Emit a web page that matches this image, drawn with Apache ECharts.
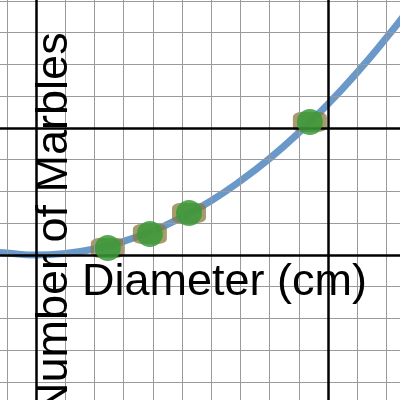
<!DOCTYPE html>
<html><head><meta charset="utf-8">
<script src="https://cdn.jsdelivr.net/npm/echarts@6/dist/echarts.min.js"></script>
<style>html,body{margin:0;padding:0;background:#fff}#main{width:400px;height:400px}</style>
</head><body><div id="main"></div>
<script>
var pointX = [1.23, 1.95, 2.62, 4.69];
var pointY = [0.22, 0.66, 1.32, 4.19];
// fitted trend curve samples
var curveX = [-0.7, -0.5, 0, 0.5, 1, 1.5, 2, 2.5, 3, 3.5, 4, 4.5, 5, 5.5, 6, 6.3];
var curveY = [0.09, 0.06, 0, 0.05, 0.19, 0.43, 0.76, 1.19, 1.71, 2.33, 3.04, 3.85, 4.75, 5.75, 6.84, 7.54];
var gridX = [-0.5, 0.5, 1, 1.5, 2, 2.5, 3, 3.5, 4, 4.5, 5.5, 6];
var gridY = [-4, -3, -2, -1, 1, 2, 3, 5, 6, 7, 8];
var majorX = [0, 5];
var majorY = [0, 4];

var myChart = echarts.init(document.getElementById('main'));
var pts = [], curve = [];
for (var i = 0; i < pointX.length; i++) pts.push([pointX[i], pointY[i]]);
for (var j = 0; j < curveX.length; j++) curve.push([curveX[j], curveY[j]]);
var minor = [], marks = [];
gridX.forEach(function(v){ minor.push({xAxis: v}); });
gridY.forEach(function(v){ minor.push({yAxis: v}); });
majorX.forEach(function(v){ marks.push({xAxis: v}); });
majorY.forEach(function(v){ marks.push({yAxis: v}); });

var option = {
  animation: false,
  grid: {left: 0, right: 0, top: 0, bottom: 0},
  xAxis: {type: 'value', min: -0.616, max: 6.233, show: true,
    axisLine: {show: false}, axisTick: {show: false}, axisLabel: {show: false},
    splitLine: {show: false}},
  yAxis: {type: 'value', min: -4.567, max: 8.031,
    axisLine: {show: false}, axisTick: {show: false}, axisLabel: {show: false},
    splitLine: {show: false}},
  series: [
    {type: 'line', data: [], markLine: {silent: true, symbol: 'none', label: {show: false},
        lineStyle: {color: '#9a9a9a', width: 1, type: 'solid'}, data: minor}},
    {type: 'line', data: curve, smooth: true, symbol: 'none', z: 3,
      lineStyle: {color: '#4f86c0', width: 7, opacity: 0.85},
      markLine: {silent: true, symbol: 'none', label: {show: false},
        lineStyle: {color: '#000', width: 2.5, type: 'solid'}, data: marks}},
    {type: 'scatter', data: pts, symbol: 'roundRect', symbolSize: [34, 20], z: 4,
      itemStyle: {color: '#8a7a3c', opacity: 0.75}},
    {type: 'scatter', data: pts, symbol: 'circle', symbolSize: 26, z: 5,
      itemStyle: {color: '#3a9a3a', opacity: 0.85}}
  ],
  graphic: [
    {type: 'text', left: 82, top: 260, z: 10, style: {text: 'Diameter (cm)', fontSize: 45,
      fontFamily: 'Liberation Sans', fill: '#000'}},
    {type: 'text', x: 32, y: 415, rotation: Math.PI / 2, z: 10, style: {text: 'Number of Marbles',
      fontSize: 45, fontFamily: 'Liberation Sans', fill: '#000'}}
  ]
};
myChart.setOption(option);
</script></body></html>
